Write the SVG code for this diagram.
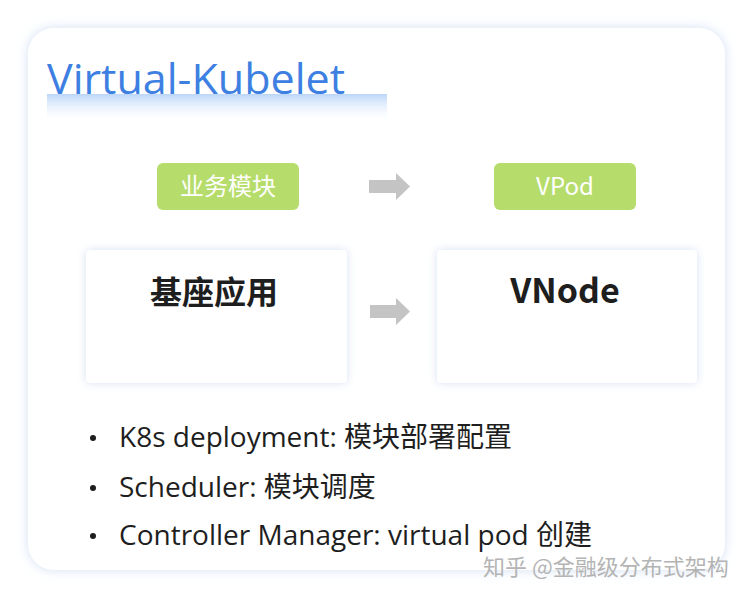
<svg xmlns="http://www.w3.org/2000/svg" width="752" height="598" viewBox="0 0 752 598">
<defs>
<filter id="cardShadow" x="-10%" y="-10%" width="120%" height="120%">
<feGaussianBlur in="SourceAlpha" stdDeviation="6" result="blur"/>
<feFlood flood-color="#c9d9f2" flood-opacity="0.8"/>
<feComposite operator="in" in2="blur"/>
<feMerge><feMergeNode/><feMergeNode in="SourceGraphic"/></feMerge>
</filter>
<filter id="boxShadow" x="-10%" y="-15%" width="120%" height="130%">
<feGaussianBlur in="SourceAlpha" stdDeviation="5" result="blur"/>
<feFlood flood-color="#d3def2" flood-opacity="0.9"/>
<feComposite operator="in" in2="blur"/>
<feMerge><feMergeNode/><feMergeNode in="SourceGraphic"/></feMerge>
</filter>
<linearGradient id="hl" x1="0" y1="0" x2="0" y2="1">
<stop offset="0" stop-color="#bcd6f8"/>
<stop offset="1" stop-color="#ffffff" stop-opacity="0.3"/>
</linearGradient>
<style>
.green{fill:#b6dd6c}
.gtxt{font-family:"Noto Sans CJK SC","Liberation Sans",sans-serif;font-size:24px;fill:#ffffff;text-anchor:middle}
.box{fill:#ffffff}
.btxt{font-family:"Noto Sans CJK SC","Liberation Sans",sans-serif;font-weight:bold;fill:#1e1e1e;text-anchor:middle}
.bullet{font-family:"Open Sans","Noto Sans CJK SC",sans-serif;font-size:28px;fill:#1e1e1e}
.arrow{fill:#c4c4c4}
</style>
</defs>
<rect width="752" height="598" fill="#ffffff"/>
<rect x="28" y="28" width="697" height="542" rx="26" fill="#ffffff" filter="url(#cardShadow)"/>
<g id="title">
<rect x="47" y="94" width="340" height="26" fill="url(#hl)"/>
<text x="47" y="94" font-family="Open Sans, Noto Sans, sans-serif" font-size="42" fill="#3d80e2" textLength="298" lengthAdjust="spacingAndGlyphs">Virtual-Kubelet</text>
</g>
<g id="node-business">
<rect class="green" x="157" y="163" width="142" height="47" rx="6"/>
<text class="gtxt" x="228" y="195">业务模块</text>
</g>
<g id="node-vpod">
<rect class="green" x="494" y="163" width="142" height="47" rx="6"/>
<text class="gtxt" x="565" y="195">VPod</text>
</g>
<g id="node-base">
<rect class="box" x="86" y="250" width="261" height="133" rx="4" filter="url(#boxShadow)"/>
<text class="btxt" x="214" y="304" font-size="32">基座应用</text>
</g>
<g id="node-vnode">
<rect class="box" x="437" y="250" width="260" height="133" rx="4" filter="url(#boxShadow)"/>
<text class="btxt" x="565" y="303" font-size="34">VNode</text>
</g>
<g id="connectors">
<polygon class="arrow" points="369,180 396,180 396,173 410,186.5 396,200 396,193 369,193"/>
<polygon class="arrow" points="370,305 396,305 396,298 410,311.5 396,325 396,318 370,318"/>
</g>
<g id="bullets">
<circle cx="93" cy="438" r="3" fill="#1e1e1e"/>
<text class="bullet" x="119" y="447">K8s deployment: 模块部署配置</text>
<circle cx="93" cy="488" r="3" fill="#1e1e1e"/>
<text class="bullet" x="119" y="497">Scheduler: 模块调度</text>
<circle cx="93" cy="536" r="3" fill="#1e1e1e"/>
<text class="bullet" x="119" y="545">Controller Manager: virtual pod 创建</text>
</g>
<text x="483" y="575" font-family="Noto Sans CJK SC, sans-serif" font-size="22" fill="#b4b4b4">知乎 @金融级分布式架构</text>
</svg>
